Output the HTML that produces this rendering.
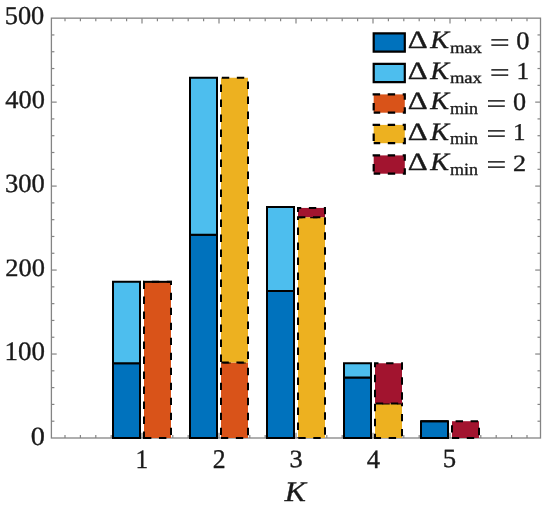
<!DOCTYPE html>
<html><head><meta charset="utf-8"><style>
html,body{margin:0;padding:0;background:#fff;width:550px;height:509px;overflow:hidden}
svg{display:block}
text{font-family:"Liberation Serif",serif;font-kerning:none;font-variant-ligatures:none;text-rendering:geometricPrecision;stroke:#1a1a1a;stroke-width:0.35px}
</style></head><body>
<svg width="550" height="509" viewBox="0 0 550 509">
<rect width="550" height="509" fill="#fff"/>
<rect x="51.4" y="18.15" width="489.1" height="419.85" fill="none" stroke="#848484" stroke-width="1.3"/>
<line x1="51.4" y1="421.21" x2="54.4" y2="421.21" stroke="#848484" stroke-width="1.2"/>
<line x1="540.5" y1="421.21" x2="537.5" y2="421.21" stroke="#848484" stroke-width="1.2"/>
<line x1="51.4" y1="404.41" x2="54.4" y2="404.41" stroke="#848484" stroke-width="1.2"/>
<line x1="540.5" y1="404.41" x2="537.5" y2="404.41" stroke="#848484" stroke-width="1.2"/>
<line x1="51.4" y1="387.62" x2="54.4" y2="387.62" stroke="#848484" stroke-width="1.2"/>
<line x1="540.5" y1="387.62" x2="537.5" y2="387.62" stroke="#848484" stroke-width="1.2"/>
<line x1="51.4" y1="370.82" x2="54.4" y2="370.82" stroke="#848484" stroke-width="1.2"/>
<line x1="540.5" y1="370.82" x2="537.5" y2="370.82" stroke="#848484" stroke-width="1.2"/>
<line x1="51.4" y1="354.03" x2="56.699999999999996" y2="354.03" stroke="#848484" stroke-width="1.2"/>
<line x1="540.5" y1="354.03" x2="535.2" y2="354.03" stroke="#848484" stroke-width="1.2"/>
<line x1="51.4" y1="337.24" x2="54.4" y2="337.24" stroke="#848484" stroke-width="1.2"/>
<line x1="540.5" y1="337.24" x2="537.5" y2="337.24" stroke="#848484" stroke-width="1.2"/>
<line x1="51.4" y1="320.44" x2="54.4" y2="320.44" stroke="#848484" stroke-width="1.2"/>
<line x1="540.5" y1="320.44" x2="537.5" y2="320.44" stroke="#848484" stroke-width="1.2"/>
<line x1="51.4" y1="303.65" x2="54.4" y2="303.65" stroke="#848484" stroke-width="1.2"/>
<line x1="540.5" y1="303.65" x2="537.5" y2="303.65" stroke="#848484" stroke-width="1.2"/>
<line x1="51.4" y1="286.85" x2="54.4" y2="286.85" stroke="#848484" stroke-width="1.2"/>
<line x1="540.5" y1="286.85" x2="537.5" y2="286.85" stroke="#848484" stroke-width="1.2"/>
<line x1="51.4" y1="270.06" x2="56.699999999999996" y2="270.06" stroke="#848484" stroke-width="1.2"/>
<line x1="540.5" y1="270.06" x2="535.2" y2="270.06" stroke="#848484" stroke-width="1.2"/>
<line x1="51.4" y1="253.27" x2="54.4" y2="253.27" stroke="#848484" stroke-width="1.2"/>
<line x1="540.5" y1="253.27" x2="537.5" y2="253.27" stroke="#848484" stroke-width="1.2"/>
<line x1="51.4" y1="236.47" x2="54.4" y2="236.47" stroke="#848484" stroke-width="1.2"/>
<line x1="540.5" y1="236.47" x2="537.5" y2="236.47" stroke="#848484" stroke-width="1.2"/>
<line x1="51.4" y1="219.68" x2="54.4" y2="219.68" stroke="#848484" stroke-width="1.2"/>
<line x1="540.5" y1="219.68" x2="537.5" y2="219.68" stroke="#848484" stroke-width="1.2"/>
<line x1="51.4" y1="202.88" x2="54.4" y2="202.88" stroke="#848484" stroke-width="1.2"/>
<line x1="540.5" y1="202.88" x2="537.5" y2="202.88" stroke="#848484" stroke-width="1.2"/>
<line x1="51.4" y1="186.09" x2="56.699999999999996" y2="186.09" stroke="#848484" stroke-width="1.2"/>
<line x1="540.5" y1="186.09" x2="535.2" y2="186.09" stroke="#848484" stroke-width="1.2"/>
<line x1="51.4" y1="169.30" x2="54.4" y2="169.30" stroke="#848484" stroke-width="1.2"/>
<line x1="540.5" y1="169.30" x2="537.5" y2="169.30" stroke="#848484" stroke-width="1.2"/>
<line x1="51.4" y1="152.50" x2="54.4" y2="152.50" stroke="#848484" stroke-width="1.2"/>
<line x1="540.5" y1="152.50" x2="537.5" y2="152.50" stroke="#848484" stroke-width="1.2"/>
<line x1="51.4" y1="135.71" x2="54.4" y2="135.71" stroke="#848484" stroke-width="1.2"/>
<line x1="540.5" y1="135.71" x2="537.5" y2="135.71" stroke="#848484" stroke-width="1.2"/>
<line x1="51.4" y1="118.91" x2="54.4" y2="118.91" stroke="#848484" stroke-width="1.2"/>
<line x1="540.5" y1="118.91" x2="537.5" y2="118.91" stroke="#848484" stroke-width="1.2"/>
<line x1="51.4" y1="102.12" x2="56.699999999999996" y2="102.12" stroke="#848484" stroke-width="1.2"/>
<line x1="540.5" y1="102.12" x2="535.2" y2="102.12" stroke="#848484" stroke-width="1.2"/>
<line x1="51.4" y1="85.33" x2="54.4" y2="85.33" stroke="#848484" stroke-width="1.2"/>
<line x1="540.5" y1="85.33" x2="537.5" y2="85.33" stroke="#848484" stroke-width="1.2"/>
<line x1="51.4" y1="68.53" x2="54.4" y2="68.53" stroke="#848484" stroke-width="1.2"/>
<line x1="540.5" y1="68.53" x2="537.5" y2="68.53" stroke="#848484" stroke-width="1.2"/>
<line x1="51.4" y1="51.74" x2="54.4" y2="51.74" stroke="#848484" stroke-width="1.2"/>
<line x1="540.5" y1="51.74" x2="537.5" y2="51.74" stroke="#848484" stroke-width="1.2"/>
<line x1="51.4" y1="34.94" x2="54.4" y2="34.94" stroke="#848484" stroke-width="1.2"/>
<line x1="540.5" y1="34.94" x2="537.5" y2="34.94" stroke="#848484" stroke-width="1.2"/>
<line x1="65.00" y1="438.0" x2="65.00" y2="435.0" stroke="#848484" stroke-width="1.2"/>
<line x1="65.00" y1="18.15" x2="65.00" y2="21.15" stroke="#848484" stroke-width="1.2"/>
<line x1="80.40" y1="438.0" x2="80.40" y2="435.0" stroke="#848484" stroke-width="1.2"/>
<line x1="80.40" y1="18.15" x2="80.40" y2="21.15" stroke="#848484" stroke-width="1.2"/>
<line x1="95.80" y1="438.0" x2="95.80" y2="435.0" stroke="#848484" stroke-width="1.2"/>
<line x1="95.80" y1="18.15" x2="95.80" y2="21.15" stroke="#848484" stroke-width="1.2"/>
<line x1="111.20" y1="438.0" x2="111.20" y2="435.0" stroke="#848484" stroke-width="1.2"/>
<line x1="111.20" y1="18.15" x2="111.20" y2="21.15" stroke="#848484" stroke-width="1.2"/>
<line x1="126.60" y1="438.0" x2="126.60" y2="435.0" stroke="#848484" stroke-width="1.2"/>
<line x1="126.60" y1="18.15" x2="126.60" y2="21.15" stroke="#848484" stroke-width="1.2"/>
<line x1="142.00" y1="438.0" x2="142.00" y2="432.7" stroke="#848484" stroke-width="1.2"/>
<line x1="142.00" y1="18.15" x2="142.00" y2="23.45" stroke="#848484" stroke-width="1.2"/>
<line x1="157.40" y1="438.0" x2="157.40" y2="435.0" stroke="#848484" stroke-width="1.2"/>
<line x1="157.40" y1="18.15" x2="157.40" y2="21.15" stroke="#848484" stroke-width="1.2"/>
<line x1="172.80" y1="438.0" x2="172.80" y2="435.0" stroke="#848484" stroke-width="1.2"/>
<line x1="172.80" y1="18.15" x2="172.80" y2="21.15" stroke="#848484" stroke-width="1.2"/>
<line x1="188.20" y1="438.0" x2="188.20" y2="435.0" stroke="#848484" stroke-width="1.2"/>
<line x1="188.20" y1="18.15" x2="188.20" y2="21.15" stroke="#848484" stroke-width="1.2"/>
<line x1="203.60" y1="438.0" x2="203.60" y2="435.0" stroke="#848484" stroke-width="1.2"/>
<line x1="203.60" y1="18.15" x2="203.60" y2="21.15" stroke="#848484" stroke-width="1.2"/>
<line x1="219.00" y1="438.0" x2="219.00" y2="432.7" stroke="#848484" stroke-width="1.2"/>
<line x1="219.00" y1="18.15" x2="219.00" y2="23.45" stroke="#848484" stroke-width="1.2"/>
<line x1="234.40" y1="438.0" x2="234.40" y2="435.0" stroke="#848484" stroke-width="1.2"/>
<line x1="234.40" y1="18.15" x2="234.40" y2="21.15" stroke="#848484" stroke-width="1.2"/>
<line x1="249.80" y1="438.0" x2="249.80" y2="435.0" stroke="#848484" stroke-width="1.2"/>
<line x1="249.80" y1="18.15" x2="249.80" y2="21.15" stroke="#848484" stroke-width="1.2"/>
<line x1="265.20" y1="438.0" x2="265.20" y2="435.0" stroke="#848484" stroke-width="1.2"/>
<line x1="265.20" y1="18.15" x2="265.20" y2="21.15" stroke="#848484" stroke-width="1.2"/>
<line x1="280.60" y1="438.0" x2="280.60" y2="435.0" stroke="#848484" stroke-width="1.2"/>
<line x1="280.60" y1="18.15" x2="280.60" y2="21.15" stroke="#848484" stroke-width="1.2"/>
<line x1="296.00" y1="438.0" x2="296.00" y2="432.7" stroke="#848484" stroke-width="1.2"/>
<line x1="296.00" y1="18.15" x2="296.00" y2="23.45" stroke="#848484" stroke-width="1.2"/>
<line x1="311.40" y1="438.0" x2="311.40" y2="435.0" stroke="#848484" stroke-width="1.2"/>
<line x1="311.40" y1="18.15" x2="311.40" y2="21.15" stroke="#848484" stroke-width="1.2"/>
<line x1="326.80" y1="438.0" x2="326.80" y2="435.0" stroke="#848484" stroke-width="1.2"/>
<line x1="326.80" y1="18.15" x2="326.80" y2="21.15" stroke="#848484" stroke-width="1.2"/>
<line x1="342.20" y1="438.0" x2="342.20" y2="435.0" stroke="#848484" stroke-width="1.2"/>
<line x1="342.20" y1="18.15" x2="342.20" y2="21.15" stroke="#848484" stroke-width="1.2"/>
<line x1="357.60" y1="438.0" x2="357.60" y2="435.0" stroke="#848484" stroke-width="1.2"/>
<line x1="357.60" y1="18.15" x2="357.60" y2="21.15" stroke="#848484" stroke-width="1.2"/>
<line x1="373.00" y1="438.0" x2="373.00" y2="432.7" stroke="#848484" stroke-width="1.2"/>
<line x1="373.00" y1="18.15" x2="373.00" y2="23.45" stroke="#848484" stroke-width="1.2"/>
<line x1="388.40" y1="438.0" x2="388.40" y2="435.0" stroke="#848484" stroke-width="1.2"/>
<line x1="388.40" y1="18.15" x2="388.40" y2="21.15" stroke="#848484" stroke-width="1.2"/>
<line x1="403.80" y1="438.0" x2="403.80" y2="435.0" stroke="#848484" stroke-width="1.2"/>
<line x1="403.80" y1="18.15" x2="403.80" y2="21.15" stroke="#848484" stroke-width="1.2"/>
<line x1="419.20" y1="438.0" x2="419.20" y2="435.0" stroke="#848484" stroke-width="1.2"/>
<line x1="419.20" y1="18.15" x2="419.20" y2="21.15" stroke="#848484" stroke-width="1.2"/>
<line x1="434.60" y1="438.0" x2="434.60" y2="435.0" stroke="#848484" stroke-width="1.2"/>
<line x1="434.60" y1="18.15" x2="434.60" y2="21.15" stroke="#848484" stroke-width="1.2"/>
<line x1="450.00" y1="438.0" x2="450.00" y2="432.7" stroke="#848484" stroke-width="1.2"/>
<line x1="450.00" y1="18.15" x2="450.00" y2="23.45" stroke="#848484" stroke-width="1.2"/>
<line x1="465.40" y1="438.0" x2="465.40" y2="435.0" stroke="#848484" stroke-width="1.2"/>
<line x1="465.40" y1="18.15" x2="465.40" y2="21.15" stroke="#848484" stroke-width="1.2"/>
<line x1="480.80" y1="438.0" x2="480.80" y2="435.0" stroke="#848484" stroke-width="1.2"/>
<line x1="480.80" y1="18.15" x2="480.80" y2="21.15" stroke="#848484" stroke-width="1.2"/>
<line x1="496.20" y1="438.0" x2="496.20" y2="435.0" stroke="#848484" stroke-width="1.2"/>
<line x1="496.20" y1="18.15" x2="496.20" y2="21.15" stroke="#848484" stroke-width="1.2"/>
<line x1="511.60" y1="438.0" x2="511.60" y2="435.0" stroke="#848484" stroke-width="1.2"/>
<line x1="511.60" y1="18.15" x2="511.60" y2="21.15" stroke="#848484" stroke-width="1.2"/>
<line x1="527.00" y1="438.0" x2="527.00" y2="435.0" stroke="#848484" stroke-width="1.2"/>
<line x1="527.00" y1="18.15" x2="527.00" y2="21.15" stroke="#848484" stroke-width="1.2"/>
<path d="M113.00,438.00L113.00,363.27L140.00,363.27L140.00,438.00Z" fill="#0072BD" stroke="#000" stroke-width="2"/>
<path d="M190.00,438.00L190.00,234.79L217.00,234.79L217.00,438.00Z" fill="#0072BD" stroke="#000" stroke-width="2"/>
<path d="M267.00,438.00L267.00,291.05L294.00,291.05L294.00,438.00Z" fill="#0072BD" stroke="#000" stroke-width="2"/>
<path d="M344.00,438.00L344.00,377.54L371.00,377.54L371.00,438.00Z" fill="#0072BD" stroke="#000" stroke-width="2"/>
<path d="M421.00,438.00L421.00,421.21L448.00,421.21L448.00,438.00Z" fill="#0072BD" stroke="#000" stroke-width="2"/>
<path d="M113.00,363.27L113.00,281.82L140.00,281.82L140.00,363.27Z" fill="#4DBEEE" stroke="#000" stroke-width="2"/>
<path d="M190.00,234.79L190.00,77.77L217.00,77.77L217.00,234.79Z" fill="#4DBEEE" stroke="#000" stroke-width="2"/>
<path d="M267.00,291.05L267.00,207.08L294.00,207.08L294.00,291.05Z" fill="#4DBEEE" stroke="#000" stroke-width="2"/>
<path d="M344.00,377.54L344.00,363.27L371.00,363.27L371.00,377.54Z" fill="#4DBEEE" stroke="#000" stroke-width="2"/>
<path d="M421.00,421.21L421.00,421.21L448.00,421.21L448.00,421.21Z" fill="#4DBEEE" stroke="#000" stroke-width="2"/>
<path d="M144.00,438.00L144.00,281.82L171.00,281.82L171.00,438.00Z" fill="#D95319" stroke="#000" stroke-width="2" stroke-dasharray="7.4 7.6" stroke-dashoffset="-14.00"/>
<path d="M221.00,438.00L221.00,362.43L248.00,362.43L248.00,438.00Z" fill="#D95319" stroke="#000" stroke-width="2" stroke-dasharray="7.4 7.6" stroke-dashoffset="-2.90"/>
<path d="M221.00,362.43L221.00,77.77L248.00,77.77L248.00,362.43Z" fill="#EDB120" stroke="#000" stroke-width="2" stroke-dasharray="7.4 7.6" stroke-dashoffset="-0.50"/>
<path d="M298.00,438.00L298.00,217.16L325.00,217.16L325.00,438.00Z" fill="#EDB120" stroke="#000" stroke-width="2" stroke-dasharray="7.4 7.6" stroke-dashoffset="-8.00"/>
<path d="M375.00,438.00L375.00,403.57L402.00,403.57L402.00,438.00Z" fill="#EDB120" stroke="#000" stroke-width="2" stroke-dasharray="7.4 7.6" stroke-dashoffset="-11.80"/>
<path d="M298.00,217.16L298.00,207.92L325.00,207.92L325.00,217.16Z" fill="#A2142F" stroke="#000" stroke-width="2" stroke-dasharray="7.4 7.6" stroke-dashoffset="-5.10"/>
<path d="M375.00,403.57L375.00,363.27L402.00,363.27L402.00,403.57Z" fill="#A2142F" stroke="#000" stroke-width="2" stroke-dasharray="7.4 7.6" stroke-dashoffset="-6.40"/>
<path d="M452.00,438.00L452.00,421.21L479.00,421.21L479.00,438.00Z" fill="#A2142F" stroke="#000" stroke-width="2" stroke-dasharray="7.4 7.6" stroke-dashoffset="-5.40"/>
<line x1="143.00" y1="281.82" x2="172.00" y2="281.82" stroke="#000" stroke-width="2"/>
<path d="M373.70,51.70L373.70,33.40L404.80,33.40L404.80,51.70Z" fill="#0072BD" stroke="#000" stroke-width="2.2"/>
<text transform="translate(407.72 48.20) scale(1.2486 1)" font-size="24.84" fill="#1a1a1a">Δ</text>
<text transform="translate(430.13 48.20) scale(1.1355 1)" font-size="24.89" font-style="italic" fill="#1a1a1a">K</text>
<text transform="translate(449.91 52.74) scale(1.1616 1)" font-size="16.01" fill="#1a1a1a">max</text>
<text transform="translate(490.07 50.70) scale(1.3599 1)" font-size="25.60" fill="#1a1a1a">=</text>
<path d="M373.70,82.20L373.70,63.90L404.80,63.90L404.80,82.20Z" fill="#4DBEEE" stroke="#000" stroke-width="2.2"/>
<text transform="translate(407.72 78.70) scale(1.2486 1)" font-size="24.84" fill="#1a1a1a">Δ</text>
<text transform="translate(430.13 78.70) scale(1.1355 1)" font-size="24.89" font-style="italic" fill="#1a1a1a">K</text>
<text transform="translate(449.91 83.24) scale(1.1616 1)" font-size="16.01" fill="#1a1a1a">max</text>
<text transform="translate(490.07 81.20) scale(1.3599 1)" font-size="25.60" fill="#1a1a1a">=</text>
<path d="M373.70,112.70L373.70,94.40L404.80,94.40L404.80,112.70Z" fill="#D95319" stroke="#000" stroke-width="2.2" stroke-dasharray="7.4 7.6" stroke-dashoffset="-2.3"/>
<text transform="translate(407.72 109.20) scale(1.2486 1)" font-size="24.84" fill="#1a1a1a">Δ</text>
<text transform="translate(430.13 109.20) scale(1.1355 1)" font-size="24.89" font-style="italic" fill="#1a1a1a">K</text>
<text transform="translate(449.92 113.80) scale(1.0473 1)" font-size="17.22" fill="#1a1a1a">min</text>
<text transform="translate(486.47 111.70) scale(1.3599 1)" font-size="25.60" fill="#1a1a1a">=</text>
<path d="M373.70,143.20L373.70,124.90L404.80,124.90L404.80,143.20Z" fill="#EDB120" stroke="#000" stroke-width="2.2" stroke-dasharray="7.4 7.6" stroke-dashoffset="-2.3"/>
<text transform="translate(407.72 139.70) scale(1.2486 1)" font-size="24.84" fill="#1a1a1a">Δ</text>
<text transform="translate(430.13 139.70) scale(1.1355 1)" font-size="24.89" font-style="italic" fill="#1a1a1a">K</text>
<text transform="translate(449.92 144.30) scale(1.0473 1)" font-size="17.22" fill="#1a1a1a">min</text>
<text transform="translate(486.47 142.20) scale(1.3599 1)" font-size="25.60" fill="#1a1a1a">=</text>
<path d="M373.70,173.70L373.70,155.40L404.80,155.40L404.80,173.70Z" fill="#A2142F" stroke="#000" stroke-width="2.2" stroke-dasharray="7.4 7.6" stroke-dashoffset="-2.3"/>
<text transform="translate(407.72 170.20) scale(1.2486 1)" font-size="24.84" fill="#1a1a1a">Δ</text>
<text transform="translate(430.13 170.20) scale(1.1355 1)" font-size="24.89" font-style="italic" fill="#1a1a1a">K</text>
<text transform="translate(449.92 174.80) scale(1.0473 1)" font-size="17.22" fill="#1a1a1a">min</text>
<text transform="translate(486.47 172.70) scale(1.3599 1)" font-size="25.60" fill="#1a1a1a">=</text>
<text transform="translate(516.19 49.25) scale(1.0428 1)" font-size="25.34" fill="#1a1a1a">0</text>
<text transform="translate(516.38 79.30) scale(1.0431 1)" font-size="24.24" fill="#1a1a1a">1</text>
<text transform="translate(513.10 110.25) scale(1.0335 1)" font-size="25.34" fill="#1a1a1a">0</text>
<text transform="translate(513.10 140.20) scale(1.0378 1)" font-size="24.09" fill="#1a1a1a">1</text>
<text transform="translate(513.05 170.50) scale(1.1261 1)" font-size="23.26" fill="#1a1a1a">2</text>
<text transform="translate(4.77 23.95) scale(1.0222 1)" font-size="25.79" fill="#1a1a1a">500</text>
<text transform="translate(5.28 108.25) scale(1.0363 1)" font-size="25.49" fill="#1a1a1a">400</text>
<text transform="translate(5.03 192.34) scale(1.0137 1)" font-size="26.23" fill="#1a1a1a">300</text>
<text transform="translate(5.13 275.76) scale(1.0588 1)" font-size="25.04" fill="#1a1a1a">200</text>
<text transform="translate(4.43 360.34) scale(1.0179 1)" font-size="26.53" fill="#1a1a1a">100</text>
<text transform="translate(30.82 444.54) scale(1.0794 1)" font-size="26.23" fill="#1a1a1a">0</text>
<text transform="translate(135.38 467.50) scale(0.9537 1)" font-size="26.51" fill="#1a1a1a">1</text>
<text transform="translate(212.67 467.70) scale(0.9504 1)" font-size="27.03" fill="#1a1a1a">2</text>
<text transform="translate(289.54 467.36) scale(1.0680 1)" font-size="24.71" fill="#1a1a1a">3</text>
<text transform="translate(366.78 467.70) scale(1.0091 1)" font-size="26.44" fill="#1a1a1a">4</text>
<text transform="translate(442.74 467.44) scale(1.0239 1)" font-size="26.18" fill="#1a1a1a">5</text>
<text transform="translate(284.87 500.70) scale(1.1231 1)" font-size="28.25" font-style="italic" fill="#1a1a1a">K</text>
</svg>
</body></html>
